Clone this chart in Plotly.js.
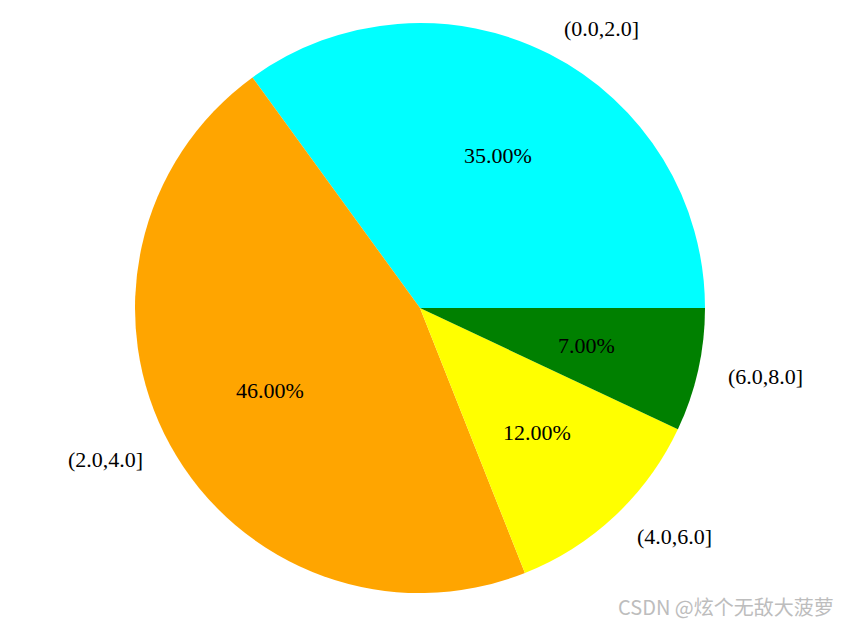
<!DOCTYPE html>
<html>
<head>
<meta charset="utf-8">
<script src="https://cdn.plot.ly/plotly-3.0.1.min.js"></script>
<style>html,body{margin:0;padding:0;background:#fff;}#chart{width:851px;height:625px;}</style>
</head>
<body>
<div id="chart"></div>
<script>
const labels = ["(0.0,2.0]", "(2.0,4.0]", "(4.0,6.0]", "(6.0,8.0]"];
const values = [35, 46, 12, 7];
const colors = ["#00FFFF", "#FFA500", "#FFFF00", "#008000"];
const watermark = "CSDN @炫个无敌大菠萝";

const W = 851, H = 625;
const cx = 420, cy = 308, R = 285;
const total = values.reduce((a, b) => a + b, 0);
const labelFont = {family: "Liberation Serif, DejaVu Serif, serif", size: 22, color: "#000"};

const annotations = [];
let cum = 0;
values.forEach((v, i) => {
  const frac = v / total;
  const mid = (cum + frac / 2) * 2 * Math.PI;
  cum += frac;
  const c = Math.cos(mid), s = Math.sin(mid);
  const lx = cx + 1.1 * R * c, ly = cy - 1.1 * R * s;
  annotations.push({
    x: lx / W, y: 1 - ly / H, xref: "paper", yref: "paper",
    text: labels[i], showarrow: false,
    xanchor: c >= 0 ? "left" : "right", yanchor: "middle",
    font: labelFont
  });
  const px = cx + 0.6 * R * c, py = cy - 0.6 * R * s;
  annotations.push({
    x: px / W, y: 1 - py / H, xref: "paper", yref: "paper",
    text: (frac * 100).toFixed(2) + "%", showarrow: false,
    xanchor: "center", yanchor: "middle",
    font: labelFont
  });
});
annotations.push({
  x: 836 / W, y: 1 - 606 / H, xref: "paper", yref: "paper",
  text: watermark, showarrow: false, xanchor: "right", yanchor: "middle",
  font: {family: "Noto Sans CJK SC, sans-serif", size: 20, color: "#bdbdbd"}
});

const trace = {
  type: "pie",
  labels: labels,
  values: values,
  sort: false,
  direction: "counterclockwise",
  // first wedge begins at 3 o'clock and the wedges run counterclockwise
  rotation: 90 - 360 * values[0] / total,
  textinfo: "none",
  hoverinfo: "label+percent",
  marker: {colors: colors, line: {width: 0}},
  domain: {x: [(cx - R) / W, (cx + R) / W], y: [1 - (cy + R) / H, 1 - (cy - R) / H]},
  showlegend: false
};

Plotly.newPlot("chart", [trace], {
  width: W, height: H,
  margin: {l: 0, r: 0, t: 0, b: 0},
  paper_bgcolor: "#fff",
  showlegend: false,
  annotations: annotations
}, {displayModeBar: false, staticPlot: true});
</script>
</body>
</html>
